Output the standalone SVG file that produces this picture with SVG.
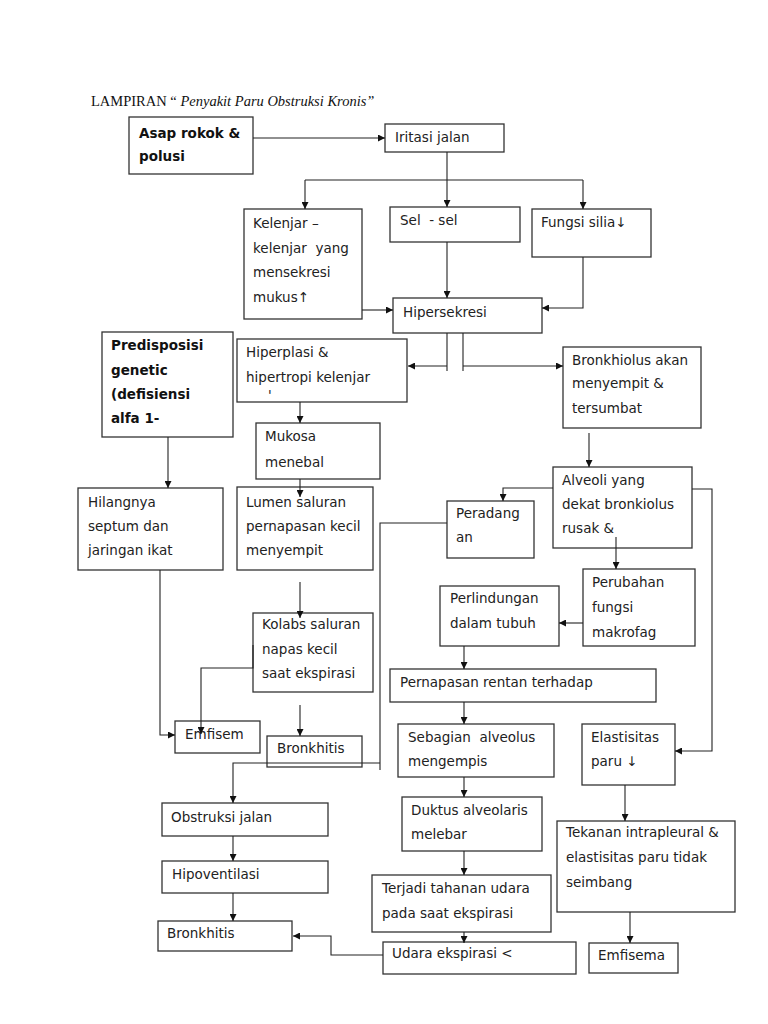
<svg xmlns="http://www.w3.org/2000/svg" width="768" height="1024" viewBox="0 0 768 1024">
<style>
.b{fill:#fff;stroke:#333;stroke-width:1.3}
.t{font-family:"DejaVu Sans",Verdana,sans-serif;font-size:13.5px;fill:#222}
.tb{font-family:"DejaVu Sans",Verdana,sans-serif;font-size:13.5px;font-weight:bold;fill:#111}
.c{fill:none;stroke:#222;stroke-width:1.1}
.ttl{font-family:"Liberation Serif","Times New Roman",serif;font-size:14.5px;fill:#111}
</style>
<defs>
<marker id="a" viewBox="0 0 10 10" refX="10" refY="5" markerWidth="7" markerHeight="7" markerUnits="userSpaceOnUse" orient="auto"><path d="M0,0 L10,5 L0,10 z" fill="#111"/></marker>
</defs>
<rect width="768" height="1024" fill="#fff"/>
<text class="ttl" x="91" y="106">LAMPIRAN “ <tspan font-style="italic">Penyakit Paru Obstruksi Kronis”</tspan></text>

<g id="asap"><rect class="b" x="129" y="117" width="124" height="57"/><text class="tb" x="139" y="138">Asap rokok &amp;</text><text class="tb" x="139" y="161">polusi</text></g>
<g id="iritasi"><rect class="b" x="385" y="124" width="119" height="28"/><text class="t" x="395" y="142">Iritasi jalan</text></g>
<g id="kelenjar"><rect class="b" x="244" y="209" width="118" height="110"/><text class="t" x="253" y="228">Kelenjar –</text><text class="t" x="253" y="253" xml:space="preserve">kelenjar  yang</text><text class="t" x="253" y="277">mensekresi</text><text class="t" x="253" y="302">mukus↑</text></g>
<g id="sel"><rect class="b" x="390" y="207" width="130" height="35"/><text class="t" x="400" y="225" xml:space="preserve">Sel  - sel</text></g>
<g id="fungsi"><rect class="b" x="532" y="209" width="119" height="48"/><text class="t" x="541" y="227">Fungsi silia↓</text></g>
<g id="hipersekresi"><rect class="b" x="393" y="298" width="149" height="35"/><text class="t" x="403" y="317">Hipersekresi</text></g>
<g id="hiperplasi"><rect class="b" x="237" y="339" width="170" height="63"/><text class="t" x="246" y="357">Hiperplasi &amp;</text><text class="t" x="246" y="382">hipertropi kelenjar</text><text class="t" x="268" y="400" font-size="8">'</text></g>
<g id="predisposisi"><rect class="b" x="102" y="332" width="131" height="105"/><text class="tb" x="111" y="350">Predisposisi</text><text class="tb" x="111" y="375">genetic</text><text class="tb" x="111" y="399">(defisiensi</text><text class="tb" x="111" y="423">alfa 1-</text></g>
<g id="mukosa"><rect class="b" x="256" y="423" width="124" height="56"/><text class="t" x="265" y="441">Mukosa</text><text class="t" x="265" y="467">menebal</text></g>
<g id="bronkhiolus"><rect class="b" x="563" y="347" width="138" height="81"/><text class="t" x="572" y="365">Bronkhiolus akan</text><text class="t" x="572" y="388">menyempit &amp;</text><text class="t" x="572" y="413">tersumbat</text></g>
<g id="hilangnya"><rect class="b" x="78" y="488" width="145" height="82"/><text class="t" x="88" y="507">Hilangnya</text><text class="t" x="88" y="531">septum dan</text><text class="t" x="88" y="555">jaringan ikat</text></g>
<g id="lumen"><rect class="b" x="237" y="487" width="136" height="83"/><text class="t" x="246" y="507">Lumen saluran</text><text class="t" x="246" y="531">pernapasan kecil</text><text class="t" x="246" y="555">menyempit</text></g>
<g id="alveoli"><rect class="b" x="553" y="467" width="139" height="81"/><text class="t" x="562" y="485">Alveoli yang</text><text class="t" x="562" y="509">dekat bronkiolus</text><text class="t" x="562" y="533">rusak &amp;</text></g>
<g id="peradangan"><rect class="b" x="447" y="501" width="87" height="57"/><text class="t" x="456" y="518">Peradang</text><text class="t" x="456" y="542">an</text></g>
<g id="perubahan"><rect class="b" x="583" y="569" width="112" height="77"/><text class="t" x="592" y="587">Perubahan</text><text class="t" x="592" y="612">fungsi</text><text class="t" x="592" y="637">makrofag</text></g>
<g id="perlindungan"><rect class="b" x="440" y="586" width="119" height="60"/><text class="t" x="450" y="603">Perlindungan</text><text class="t" x="450" y="628">dalam tubuh</text></g>
<g id="kolabs"><rect class="b" x="253" y="613" width="120" height="79"/><text class="t" x="262" y="629">Kolabs saluran</text><text class="t" x="262" y="654">napas kecil</text><text class="t" x="262" y="678">saat ekspirasi</text></g>
<g id="pernapasan"><rect class="b" x="390" y="669" width="266" height="33"/><text class="t" x="400" y="687">Pernapasan rentan terhadap</text></g>
<g id="emfisem"><rect class="b" x="175" y="721" width="85" height="32"/><text class="t" x="185" y="739">Emfisem</text></g>
<g id="bronkhitis1"><rect class="b" x="267" y="736" width="95" height="31"/><text class="t" x="277" y="753">Bronkhitis</text></g>
<g id="sebagian"><rect class="b" x="398" y="724" width="156" height="53"/><text class="t" x="408" y="742" xml:space="preserve">Sebagian  alveolus</text><text class="t" x="408" y="766">mengempis</text></g>
<g id="elastisitas"><rect class="b" x="582" y="724" width="93" height="61"/><text class="t" x="591" y="742">Elastisitas</text><text class="t" x="591" y="766">paru ↓</text></g>
<g id="obstruksi"><rect class="b" x="162" y="803" width="166" height="33"/><text class="t" x="171" y="822">Obstruksi jalan</text></g>
<g id="duktus"><rect class="b" x="402" y="797" width="140" height="54"/><text class="t" x="411" y="815">Duktus alveolaris</text><text class="t" x="411" y="839">melebar</text></g>
<g id="tekanan"><rect class="b" x="557" y="821" width="178" height="91"/><text class="t" x="566" y="837">Tekanan intrapleural &amp;</text><text class="t" x="566" y="862">elastisitas paru tidak</text><text class="t" x="566" y="887">seimbang</text></g>
<g id="hipoventilasi"><rect class="b" x="162" y="861" width="166" height="32"/><text class="t" x="172" y="879">Hipoventilasi</text></g>
<g id="terjadi"><rect class="b" x="372" y="875" width="179" height="57"/><text class="t" x="382" y="893">Terjadi tahanan udara</text><text class="t" x="382" y="918">pada saat ekspirasi</text></g>
<g id="bronkhitis2"><rect class="b" x="158" y="921" width="134" height="30"/><text class="t" x="167" y="938">Bronkhitis</text></g>
<g id="udara"><rect class="b" x="383" y="942" width="193" height="32"/><text class="t" x="392" y="958">Udara ekspirasi &lt;</text></g>
<g id="emfisema"><rect class="b" x="589" y="943" width="89" height="30"/><text class="t" x="598" y="960">Emfisema</text></g>

<g id="connectors">
<path class="c" d="M253,138 H385" marker-end="url(#a)"/>
<path class="c" d="M447,152 V207" marker-end="url(#a)"/>
<path class="c" d="M305,180 H583"/>
<path class="c" d="M305,180 V209" marker-end="url(#a)"/>
<path class="c" d="M583,180 V209" marker-end="url(#a)"/>
<path class="c" d="M362,310 H393" marker-end="url(#a)"/>
<path class="c" d="M447,242 V298" marker-end="url(#a)"/>
<path class="c" d="M583,257 V308 H542" marker-end="url(#a)"/>
<path class="c" d="M447,333 V371"/>
<path class="c" d="M463,333 V371"/>
<path class="c" d="M447,366 H408" marker-end="url(#a)"/>
<path class="c" d="M463,366 H563" marker-end="url(#a)"/>
<path class="c" d="M300,402 V423" marker-end="url(#a)"/>
<path class="c" d="M300,479 V497" marker-end="url(#a)"/>
<path class="c" d="M168,437 V488" marker-end="url(#a)"/>
<path class="c" d="M589,433 V467" marker-end="url(#a)"/>
<path class="c" d="M553,488 H503 V501" marker-end="url(#a)"/>
<path class="c" d="M692,489 H712 V751 H675" marker-end="url(#a)"/>
<path class="c" d="M616,537 V569" marker-end="url(#a)"/>
<path class="c" d="M583,623 H559" marker-end="url(#a)"/>
<path class="c" d="M464,646 V669" marker-end="url(#a)"/>
<path class="c" d="M464,702 V724" marker-end="url(#a)"/>
<path class="c" d="M464,777 V797" marker-end="url(#a)"/>
<path class="c" d="M464,851 V875" marker-end="url(#a)"/>
<path class="c" d="M464,932 V943" marker-end="url(#a)"/>
<path class="c" d="M383,955 H331 V936 H293" marker-end="url(#a)"/>
<path class="c" d="M447,523 H380 V770"/>
<path class="c" d="M380,763 H233 V803" marker-end="url(#a)"/>
<path class="c" d="M233,836 V861" marker-end="url(#a)"/>
<path class="c" d="M233,893 V921" marker-end="url(#a)"/>
<path class="c" d="M300,582 V618" marker-end="url(#a)"/>
<path class="c" d="M253,645 V668 H201 V734" marker-end="url(#a)"/>
<path class="c" d="M160,570 V735 H175" marker-end="url(#a)"/>
<path class="c" d="M300,705 V736" marker-end="url(#a)"/>
<path class="c" d="M625,785 V821" marker-end="url(#a)"/>
<path class="c" d="M630,912 V943" marker-end="url(#a)"/>
</g>
</svg>
